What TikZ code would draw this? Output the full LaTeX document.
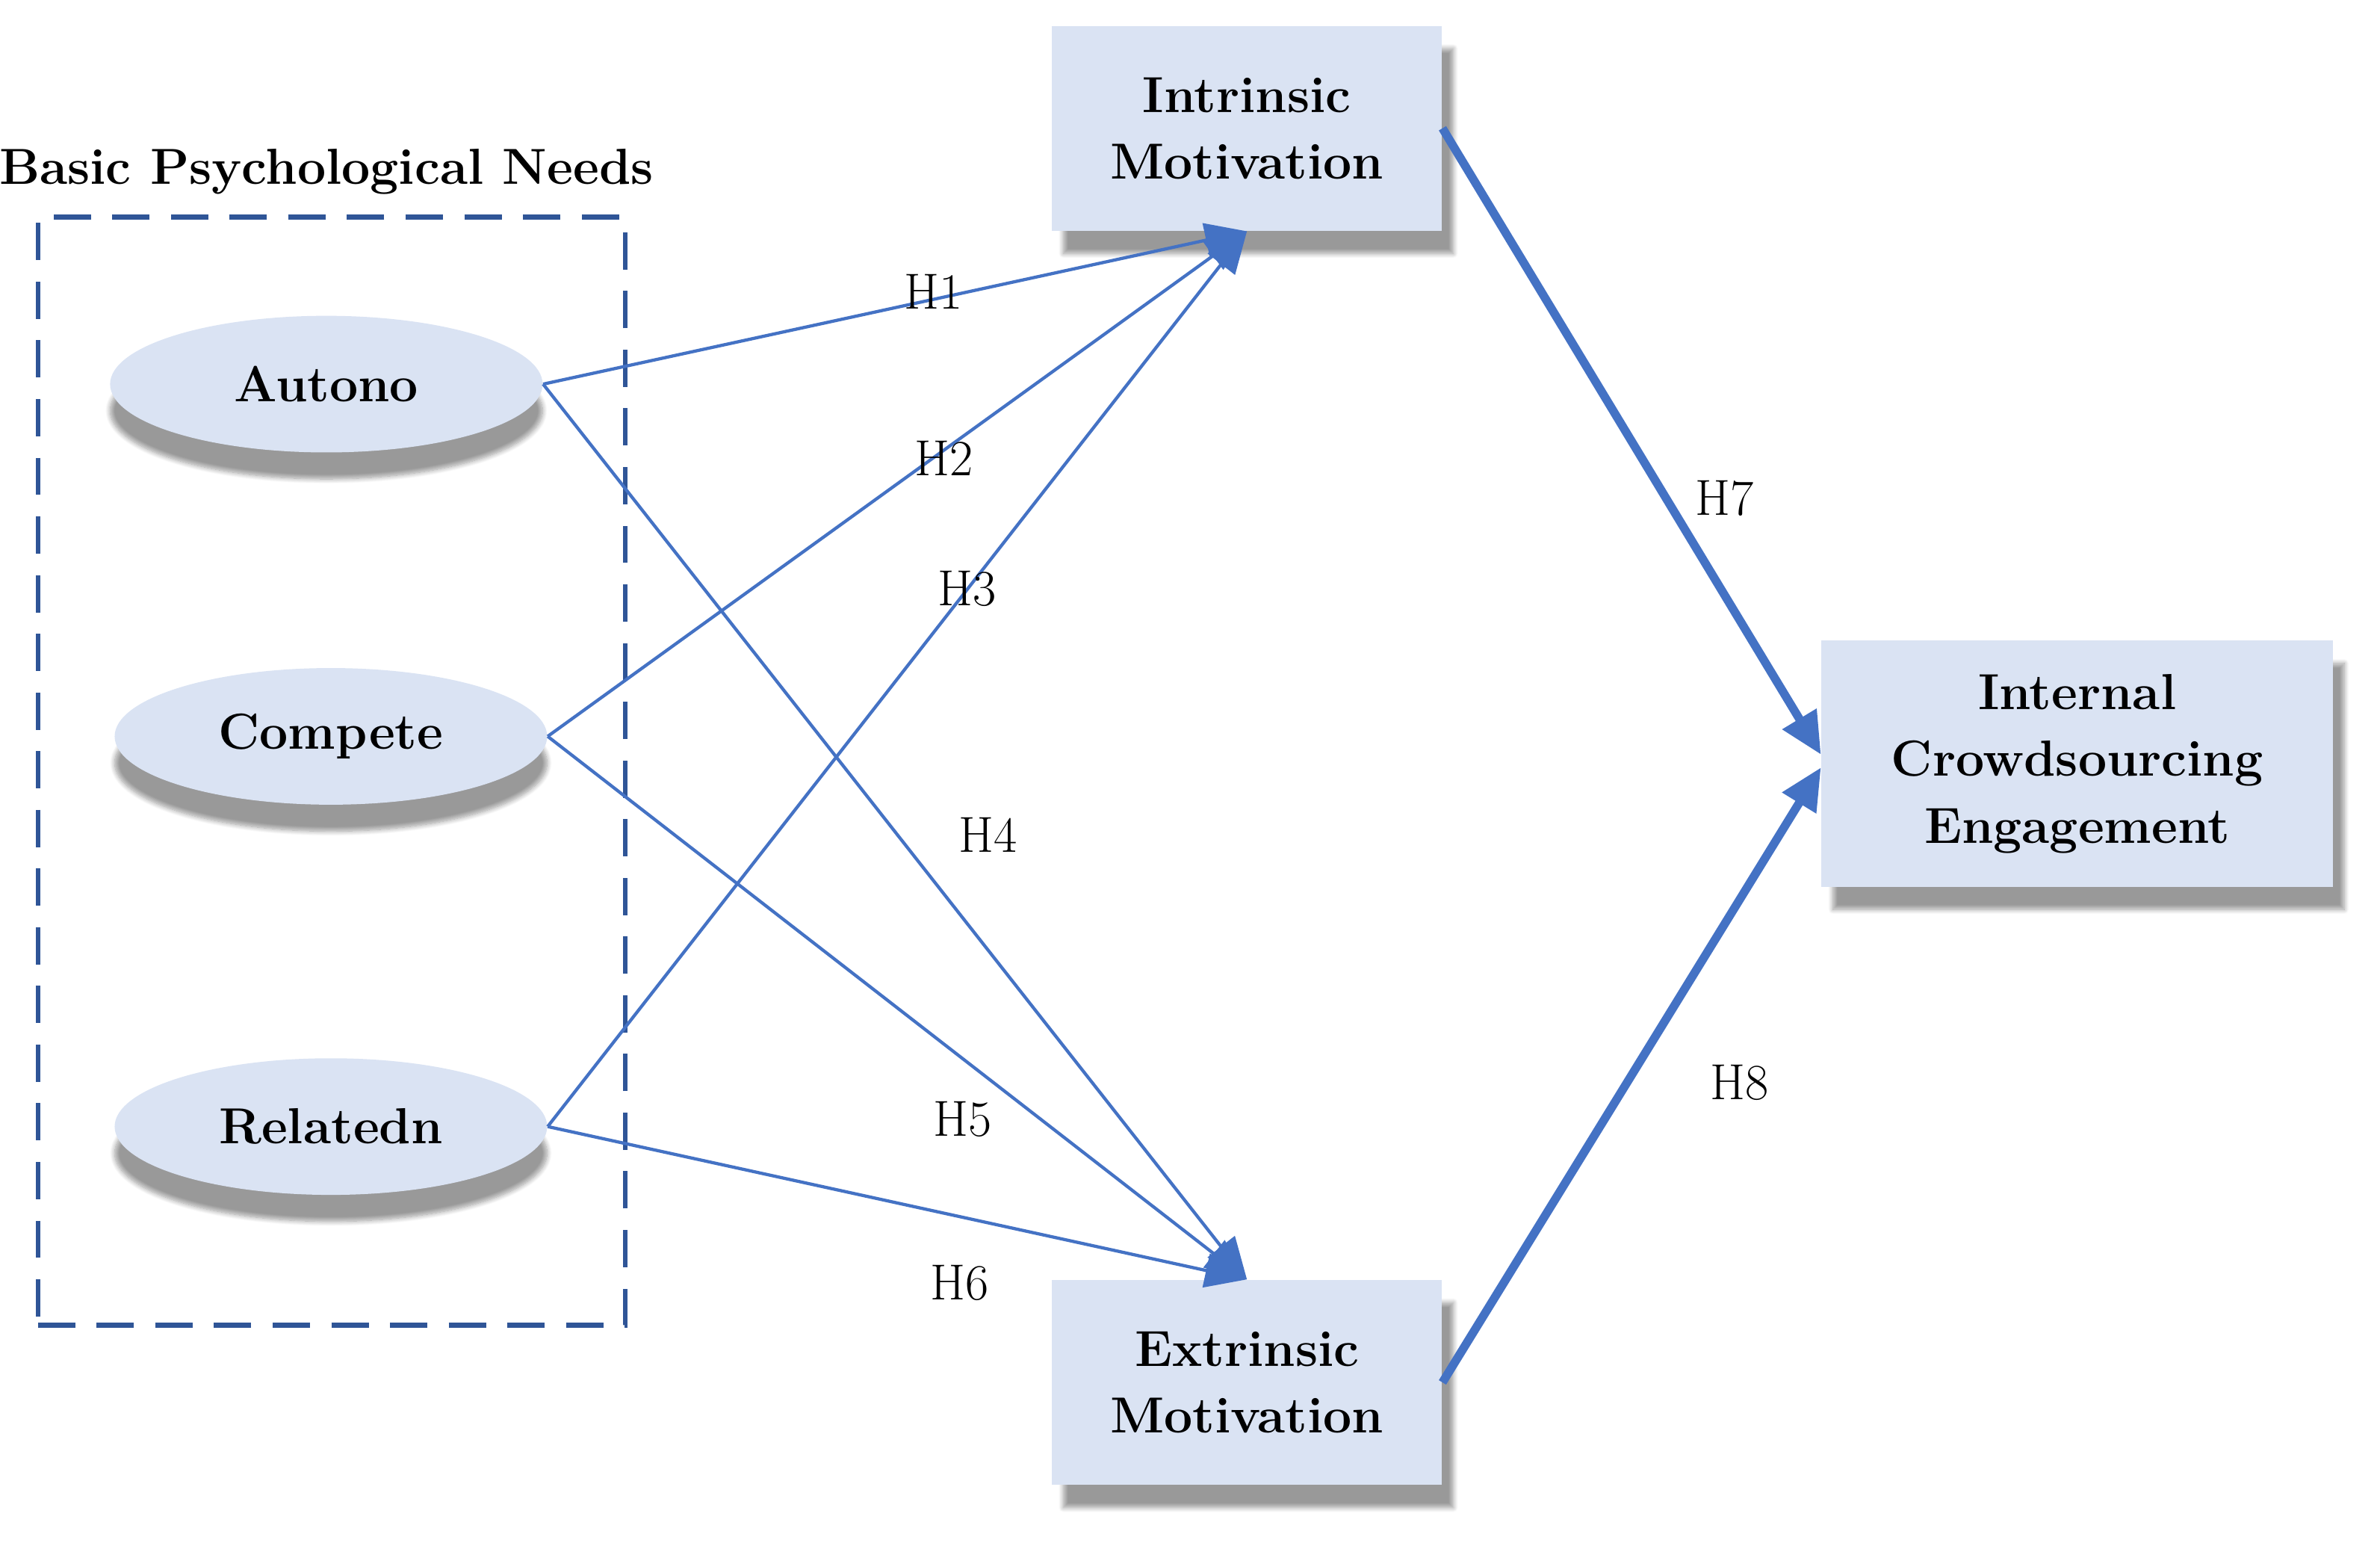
\documentclass[tikz,border=0pt]{standalone}
\usetikzlibrary{shapes.geometric,arrows.meta,shadows.blur}
\definecolor{fillb}{HTML}{DAE3F3}
\definecolor{lineb}{HTML}{4472C4}
\definecolor{dashb}{HTML}{2F5597}
\begin{document}
\begin{tikzpicture}[x=0.02cm,y=-0.02cm,
  ell/.style={ellipse,fill=fillb,minimum width=5.7cm,minimum height=1.8cm,inner sep=0pt,
    blur shadow={shadow xshift=0pt,shadow yshift=-0.35cm,shadow blur steps=10,shadow opacity=40},
    font=\fontsize{19}{22}\selectfont\bfseries},
  box/.style={rectangle,fill=fillb,inner sep=0pt,align=center,
    blur shadow={shadow xshift=0.15cm,shadow yshift=-0.3cm,shadow blur steps=10,shadow opacity=40},
    font=\fontsize{19}{25}\selectfont\bfseries},
  thin/.style={draw=lineb,line width=1.2pt,-{Triangle[length=0.55cm,width=0.45cm]}},
  thick/.style={draw=lineb,line width=3.2pt,-{Triangle[length=0.55cm,width=0.5cm]}},
  lab/.style={font=\fontsize{19}{22}\selectfont}]
\useasboundingbox (0,0) rectangle (1568,1020);
\node[font=\fontsize{19}{22}\selectfont\bfseries] (title) at (215,113) {Basic Psychological Needs};
\node[draw=dashb,dashed,dash pattern=on 14pt off 8pt,line width=1.8pt,minimum width=7.74cm,minimum height=14.6cm,inner sep=0pt] (bpn) at (218.5,508) {};
\node[ell] (aut) at (215,253) {Autono};
\node[ell] (com) at (218,485) {Compete};
\node[ell] (rel) at (218,742) {Relatedn};
\node[box,minimum width=5.14cm,minimum height=2.7cm] (im) at (821.5,84.5) {Intrinsic\\Motivation};
\node[box,minimum width=5.14cm,minimum height=2.7cm] (em) at (821.5,910.5) {Extrinsic\\Motivation};
\node[box,minimum width=6.74cm,minimum height=3.24cm] (ice) at (1368.5,503) {Internal\\Crowdsourcing\\Engagement};
\draw[thin] (aut.east) -- (im.south);
\draw[thin] (com.east) -- (im.south);
\draw[thin] (rel.east) -- (im.south);
\draw[thin] (aut.east) -- (em.north);
\draw[thin] (com.east) -- (em.north);
\draw[thin] (rel.east) -- (em.north);
\draw[thick] (im.east) -- ([yshift=0.12cm]ice.west);
\draw[thick] (em.east) -- ([yshift=-0.05cm]ice.west);
\node[lab] (h1) at (615,192) {H1};
\node[lab] (h2) at (622,302) {H2};
\node[lab] (h3) at (637,388) {H3};
\node[lab] (h4) at (651,550) {H4};
\node[lab] (h5) at (634,737) {H5};
\node[lab] (h6) at (632,845) {H6};
\node[lab] (h7) at (1136,328) {H7};
\node[lab] (h8) at (1146,713) {H8};
\end{tikzpicture}
\end{document}
